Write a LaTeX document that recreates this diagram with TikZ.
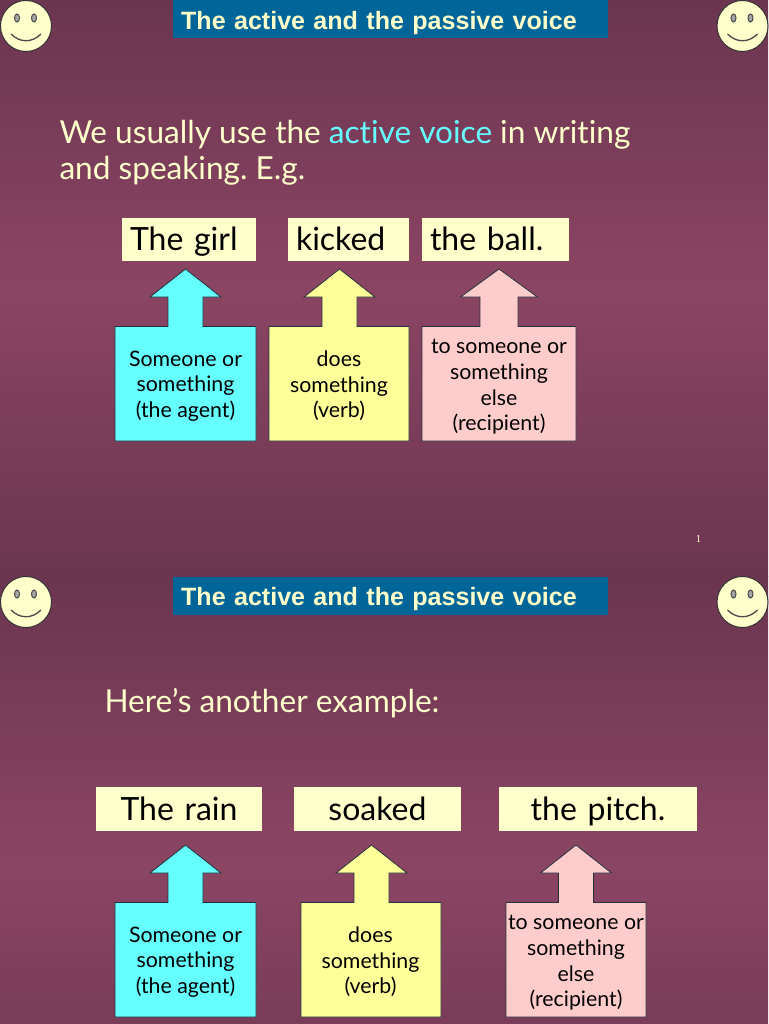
\documentclass[tikz,border=0pt]{standalone}
\usepackage{fontspec}
\setmainfont{Lato}[Ligatures=NoCommon]
\newfontfamily\titlefont{Liberation Sans}
\newfontfamily\numfont{Liberation Serif}
\definecolor{slidedark}{RGB}{107,53,80}
\definecolor{slidelight}{RGB}{139,69,99}
\definecolor{cream}{RGB}{255,255,204}
\definecolor{titleblue}{RGB}{0,102,153}
\definecolor{agentcyan}{RGB}{102,255,255}
\definecolor{verbyellow}{RGB}{255,255,153}
\definecolor{recipink}{RGB}{255,204,204}
\definecolor{outline}{RGB}{35,50,60}
\tikzset{every picture/.style={line width=0.75pt}}
\tikzset{
  titlebar/.style={fill=titleblue,minimum width=326.25pt,minimum height=28.5pt,inner sep=0pt,anchor=north west,text=cream,font=\titlefont\bfseries\fontsize{18.8}{18.8}\selectfont,align=left,text width=314pt,inner xsep=6pt,text height=15pt,text depth=0pt},
  headline/.style={anchor=west,inner sep=0pt,text=cream,align=left,font=\fontsize{23.7}{27}\selectfont},
  wordbox/.style={fill=cream,anchor=west,minimum height=32.5pt,inner xsep=6pt,inner ysep=0pt,text height=17pt,text depth=0pt,font=\fontsize{24}{24}\selectfont},
  notetext/.style={inner sep=0pt,align=center,text=black,font=\fontsize{16}{19.2}\selectfont},
  blockarrow/.style={draw=outline,line width=0.6pt,line join=miter}
}
\begin{document}
\frenchspacing
\begin{tikzpicture}[x=0.75pt,y=0.75pt,yscale=-1]
	\useasboundingbox (0,0) rectangle (768,1024);
	% slide backgrounds
	\begin{scope}
		\clip (0,0) rectangle (768,1024);
		\shade [top color=slidedark,bottom color=slidedark,middle color=slidelight] (0,0) rectangle (768,576);
		\shade [top color=slidedark,bottom color=slidedark,middle color=slidelight] (0,576) rectangle (768,1152);
	\end{scope}
	% smileys
	\foreach \cx/\cy in {26/26,742.5/26,26/602,742.5/602}{
		\draw [fill=cream,draw=black!80] (\cx,\cy) circle (25.5);
		\draw [fill=black!35,draw=black!70] (\cx-9,\cy-8) ellipse (2.5 and 4);
		\draw [fill=black!35,draw=black!70] (\cx+8,\cy-8) ellipse (2.5 and 4);
		\draw [draw=black!70,line width=1pt] (\cx-15,\cy+8) .. controls (\cx-6,\cy+17) and (\cx+6,\cy+17) .. (\cx+15,\cy+8);
	}
	% title bars
	\node (title1) [titlebar] at (172.5,0) {The active and the passive voice};
	\node (title2) [titlebar] at (172.5,576) {The active and the passive voice};
	% headlines
	\node (intro) [headline] at (59,153) {We usually use the \textcolor{agentcyan}{active voice} in writing\\and speaking. E.g.};
	\node (another) [headline] at (104,703) {Here’s another example:};
	% word boxes
	\node (girl) [wordbox,text width=88.5pt,minimum width=100.5pt] at (121.5,239.5) {The girl};
	\node (kicked) [wordbox,text width=78.75pt,minimum width=90.75pt] at (287.5,239.5) {kicked};
	\node (ball) [wordbox,text width=98.25pt,minimum width=110.25pt] at (421.5,239.5) {the ball.};
	\node (rain) [wordbox,align=center,text width=112.5pt,minimum width=124.5pt] at (95.5,809) {The rain};
	\node (soaked) [wordbox,align=center,text width=113.25pt,minimum width=125.25pt] at (293.5,809) {soaked};
	\node (pitch) [wordbox,align=center,text width=136.5pt,minimum width=148.5pt] at (498.5,809) {the pitch.};
	% block arrows: left/right of box, tip x, tip y, stem and head half widths, colour
	\foreach \bl/\br/\tx/\ty/\sw/\hw/\col in {115/256/185.5/269/17.5/35.5/agentcyan,269/409/339.5/269/17.5/35.5/verbyellow,422/576/499/269/19/38.5/recipink,115/256/185.5/845/17.5/35.5/agentcyan,301/441/371.5/845/17.5/35.5/verbyellow,506/646/576/845/17.5/35.5/recipink}{
		\draw [blockarrow,fill=\col] (\bl,\ty+172) -- (\bl,\ty+57.5) -- (\tx-\sw,\ty+57.5) -- (\tx-\sw,\ty+28) -- (\tx-\hw,\ty+28) -- (\tx,\ty) -- (\tx+\hw,\ty+28) -- (\tx+\sw,\ty+28) -- (\tx+\sw,\ty+57.5) -- (\br,\ty+57.5) -- (\br,\ty+172) -- cycle;
	}
	% arrow texts
	\node (agent1) [notetext] at (185.5,386) {Someone or\\something\\(the agent)};
	\node (verb1) [notetext] at (339,386) {does\\something\\(verb)};
	\node (recip1) [notetext] at (499,387) {to someone or\\something\\else\\(recipient)};
	\node (agent2) [notetext] at (185.5,962) {Someone or\\something\\(the agent)};
	\node (verb2) [notetext] at (370.5,962) {does\\something\\(verb)};
	\node (recip2) [notetext] at (576,963) {to someone or\\something\\else\\(recipient)};
	% page number
	\node (page1) [inner sep=0pt,text=cream,font=\numfont\fontsize{8}{8}\selectfont] at (698.5,539) {1};
\end{tikzpicture}
\end{document}
